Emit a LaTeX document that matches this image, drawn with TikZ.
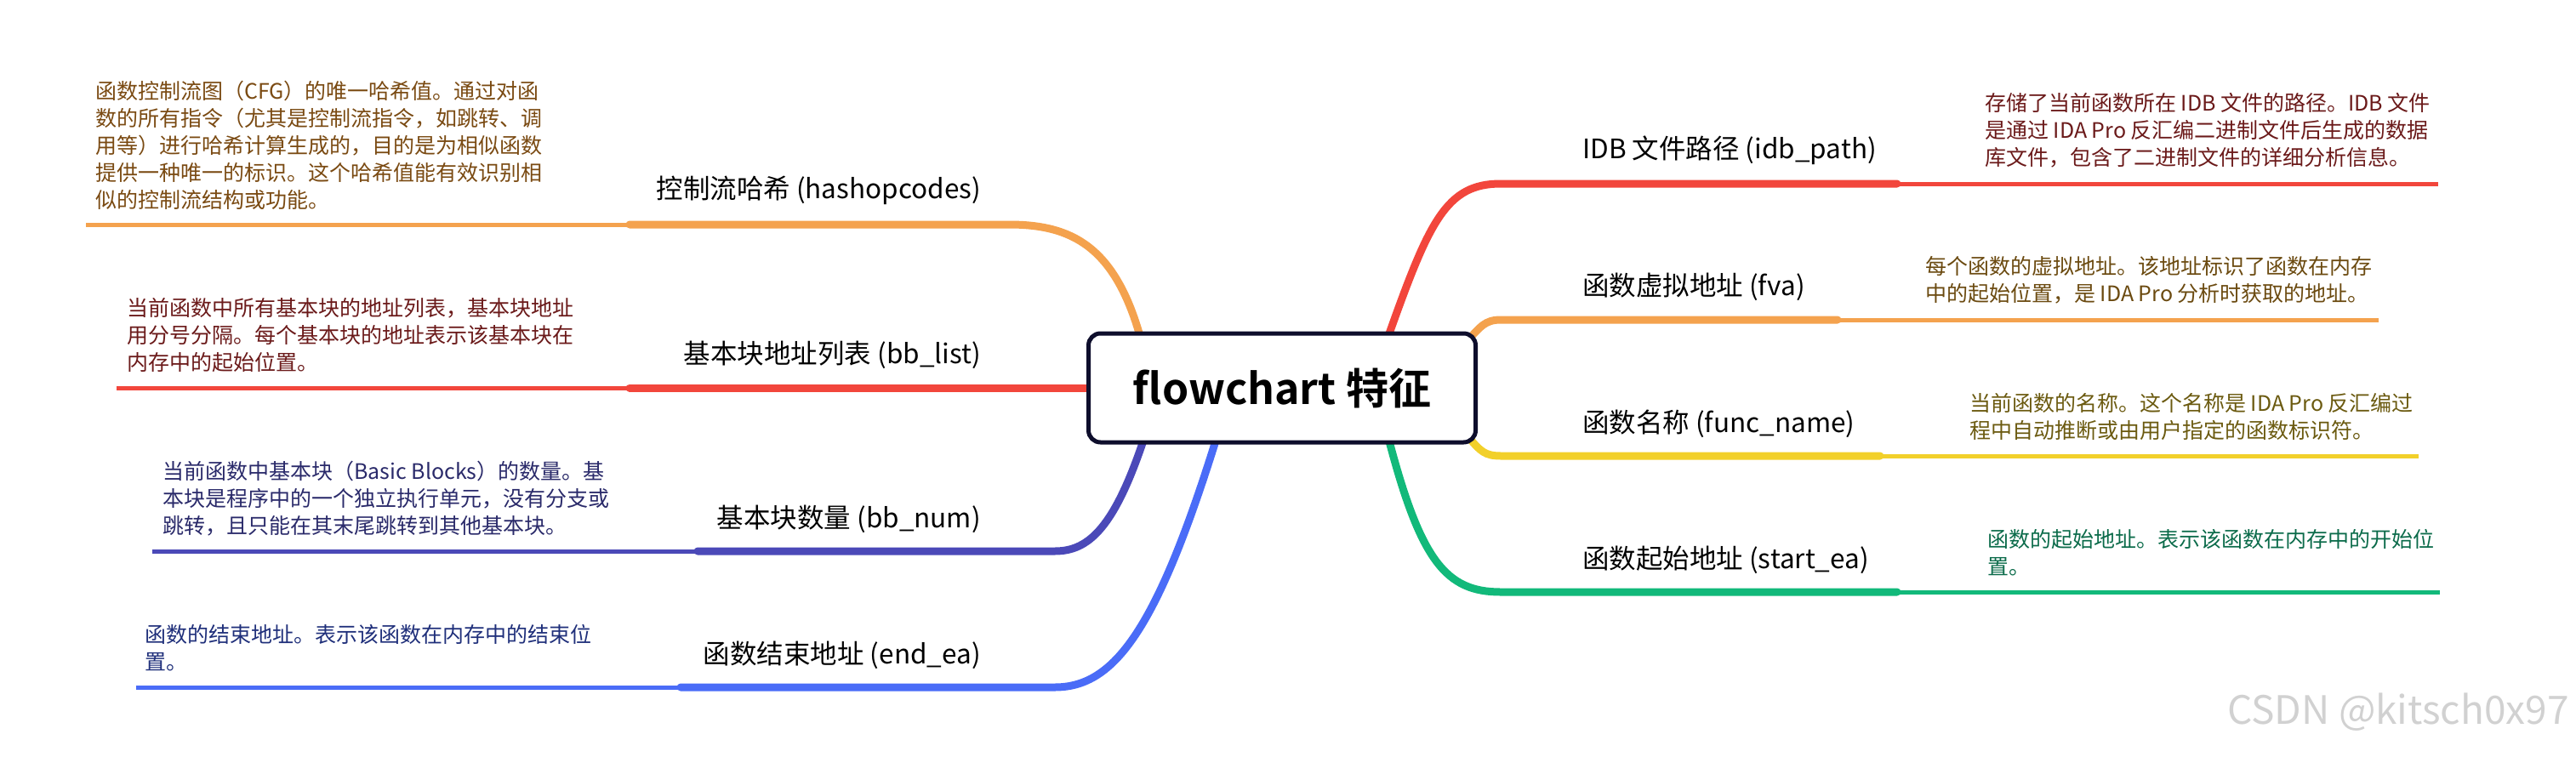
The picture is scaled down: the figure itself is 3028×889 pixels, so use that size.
\documentclass[tikz,border=0pt]{standalone}
\usepackage{fontspec}
\setmainfont{Noto Sans CJK SC}
\newfontfamily\boldcjk{Noto Sans CJK SC Bold}
\definecolor{cOr}{HTML}{F4A24E}\definecolor{cRd}{HTML}{F2463C}
\definecolor{cPu}{HTML}{4B49B8}\definecolor{cBl}{HTML}{4A6CF7}
\definecolor{cYe}{HTML}{F2D02A}\definecolor{cGr}{HTML}{12B97A}
\definecolor{cNv}{HTML}{0E0E2C}
\definecolor{dOr}{HTML}{7A4A12}\definecolor{dRd}{HTML}{6B1A1A}
\definecolor{dPu}{HTML}{2A2A6A}\definecolor{dBl}{HTML}{1F2F7A}
\definecolor{dFv}{HTML}{6B4A10}\definecolor{dYe}{HTML}{6B5A10}
\definecolor{dGr}{HTML}{0B6B4A}
\begin{document}
\begin{tikzpicture}[x=1pt,y=-1pt,
  lbl/.style={inner sep=0pt,font=\fontsize{31.5}{36}\selectfont,text=black},
  desc/.style={inner sep=0pt,align=left,anchor=north west,font=\fontsize{25}{32}\selectfont},
  thick br/.style={line width=9pt,line cap=round},
  thin br/.style={line width=5pt}]
\useasboundingbox (0,0) rectangle (3028,889);
\coordinate (h1) at (1186,264); \coordinate (h2) at (101,264);
\coordinate (l1) at (1150,456); \coordinate (l2) at (137,456);
\coordinate (n1) at (1240,648); \coordinate (n2) at (179,648);
\coordinate (e1) at (1240,808); \coordinate (e2) at (160,808);
\coordinate (i1) at (1764,216); \coordinate (i2) at (2866,216);
\coordinate (f1) at (1764,376); \coordinate (f2) at (2796,376);
\coordinate (u1) at (1764,536); \coordinate (u2) at (2843,536);
\coordinate (s1) at (1764,696); \coordinate (s2) at (2868,696);
\coordinate (hb) at (1340,395); \coordinate (nb) at (1345,515);
\coordinate (eb) at (1430,515); \coordinate (ib) at (1632,395);
\coordinate (fb) at (1727,398); \coordinate (ub) at (1727,515);
\coordinate (sb) at (1632,515); \coordinate (lb) at (1290,456);
\draw[cOr,thick br] (hb) .. controls (1310,290) and (1260,264) .. (h1) -- (740,264);
\draw[cOr,thin br] (740,264) -- (h2);
\draw[cRd,thick br] (lb) -- (l1) -- (740,456);
\draw[cRd,thin br] (740,456) -- (l2);
\draw[cPu,thick br] (nb) .. controls (1310,620) and (1280,648) .. (n1) -- (820,648);
\draw[cPu,thin br] (820,648) -- (n2);
\draw[cBl,thick br] (eb) .. controls (1360,740) and (1310,808) .. (e1) -- (800,808);
\draw[cBl,thin br] (800,808) -- (e2);
\draw[cRd,thick br] (ib) .. controls (1680,260) and (1700,216) .. (i1) -- (2230,216);
\draw[cRd,thin br] (2230,216) -- (i2);
\draw[cOr,thick br] (fb) .. controls (1740,385) and (1745,376) .. (f1) -- (2160,376);
\draw[cOr,thin br] (2160,376) -- (f2);
\draw[cYe,thick br] (ub) .. controls (1740,530) and (1745,536) .. (u1) -- (2210,536);
\draw[cYe,thin br] (2210,536) -- (u2);
\draw[cGr,thick br] (sb) .. controls (1670,660) and (1700,696) .. (s1) -- (2230,696);
\draw[cGr,thin br] (2230,696) -- (s2);
\node[draw=cNv,fill=white,line width=5pt,rounded corners=14pt,minimum width=455pt,minimum height=128pt,
  font=\fontsize{50}{60}\boldcjk] (c) at (1507,456) {flowchart 特征};
\node[lbl,anchor=east] (Lh) at (1153,224) {控制流哈希 (hashopcodes)};
\node[lbl,anchor=east] (Ll) at (1153,417) {基本块地址列表 (bb\_list)};
\node[lbl,anchor=east] (Ln) at (1153,610) {基本块数量 (bb\_num)};
\node[lbl,anchor=east] (Le) at (1153,770) {函数结束地址 (end\_ea)};
\node[lbl,anchor=west] (Li) at (1860,177) {IDB 文件路径 (idb\_path)};
\node[lbl,anchor=west] (Lf) at (1860,337) {函数虚拟地址 (fva)};
\node[lbl,anchor=west] (Lu) at (1860,498) {函数名称 (func\_name)};
\node[lbl,anchor=west] (Ls) at (1860,658) {函数起始地址 (start\_ea)};
\node[desc,text=dOr] (Dh) at (112,95) {函数控制流图（CFG）的唯一哈希值。通过对函\\数的所有指令（尤其是控制流指令，如跳转、调\\用等）进行哈希计算生成的，目的是为相似函数\\提供一种唯一的标识。这个哈希值能有效识别相\\似的控制流结构或功能。};
\node[desc,text=dRd] (Dl) at (149,350) {当前函数中所有基本块的地址列表，基本块地址\\用分号分隔。每个基本块的地址表示该基本块在\\内存中的起始位置。};
\node[desc,text=dPu] (Dn) at (191,542) {当前函数中基本块（Basic Blocks）的数量。基\\本块是程序中的一个独立执行单元，没有分支或\\跳转，且只能在其末尾跳转到其他基本块。};
\node[desc,text=dBl] (De) at (170,734) {函数的结束地址。表示该函数在内存中的结束位\\置。};
\node[desc,text=dRd] (Di) at (2333,109) {存储了当前函数所在 IDB 文件的路径。IDB 文件\\是通过 IDA Pro 反汇编二进制文件后生成的数据\\库文件，包含了二进制文件的详细分析信息。};
\node[desc,text=dFv] (Df) at (2263,301) {每个函数的虚拟地址。该地址标识了函数在内存\\中的起始位置，是 IDA Pro 分析时获取的地址。};
\node[desc,text=dYe] (Du) at (2315,462) {当前函数的名称。这个名称是 IDA Pro 反汇编过\\程中自动推断或由用户指定的函数标识符。};
\node[desc,text=dGr] (Ds) at (2336,622) {函数的起始地址。表示该函数在内存中的开始位\\置。};
\node[inner sep=0pt,anchor=east,text=black!18,font=\fontsize{46}{50}\selectfont] (wm) at (3020,837) {CSDN @kitsch0x97};
\end{tikzpicture}
\end{document}
